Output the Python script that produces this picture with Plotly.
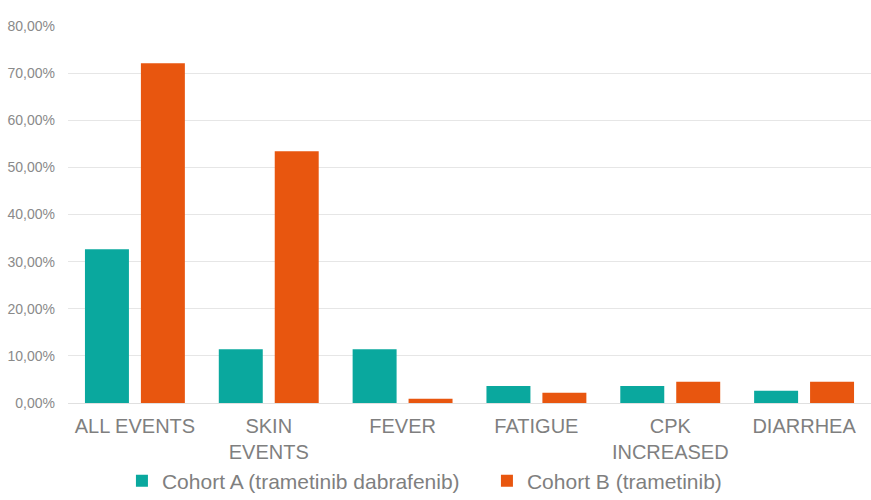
import plotly.graph_objects as go

categories = ["ALL EVENTS", "SKIN<br>EVENTS", "FEVER", "FATIGUE", "CPK<br>INCREASED", "DIARRHEA"]
cohort_a_name = "Cohort A (trametinib dabrafenib)"
cohort_b_name = "Cohort B (trametinib)"
cohort_a = [0.326, 0.114, 0.114, 0.036, 0.036, 0.026]
cohort_b = [0.721, 0.534, 0.009, 0.022, 0.045, 0.045]
y_ticks = [0, 0.1, 0.2, 0.3, 0.4, 0.5, 0.6, 0.7, 0.8]

teal = "#0AA89E"
orange = "#E8560F"
font_name = "Liberation Sans, Arial, sans-serif"

fig = go.Figure()
fig.add_trace(go.Bar(x=categories, y=cohort_a, name=cohort_a_name,
                     marker=dict(color=teal, line=dict(width=0))))
fig.add_trace(go.Bar(x=categories, y=cohort_b, name=cohort_b_name,
                     marker=dict(color=orange, line=dict(width=0))))

fig.update_layout(
    width=871, height=500,
    margin=dict(l=68, r=0, t=26, b=97, autoexpand=False),
    paper_bgcolor="white", plot_bgcolor="white",
    separators=",.",
    barmode="group",
    bargap=0.164,
    bargroupgap=0.214,
    font=dict(family=font_name, color="#7f7f7f"),
    showlegend=True,
    legend=dict(orientation="h", xref="container", yref="container",
                x=0.14, xanchor="left", y=0.038, yanchor="middle",
                font=dict(size=21, color="#7f7f7f"),
                itemwidth=30, tracegroupgap=0,
                entrywidth=320, entrywidthmode="pixels"),
    hovermode=False,
)
fig.update_xaxes(showgrid=False, showline=False, zeroline=False,
                 automargin=False,
                 tickfont=dict(size=20, color="#7f7f7f"),
                 ticklabelstandoff=9)
fig.update_yaxes(range=[0, 0.8], tickvals=y_ticks, tickformat=".2%",
                 automargin=False,
                 showgrid=True, gridcolor="#e6e6e6", gridwidth=1,
                 zeroline=True, zerolinecolor="#e0e0e0", zerolinewidth=1,
                 showline=False,
                 tickfont=dict(size=14, color="#8a8a8a"),
                 ticklabelstandoff=12)

fig.write_html("out.html")
